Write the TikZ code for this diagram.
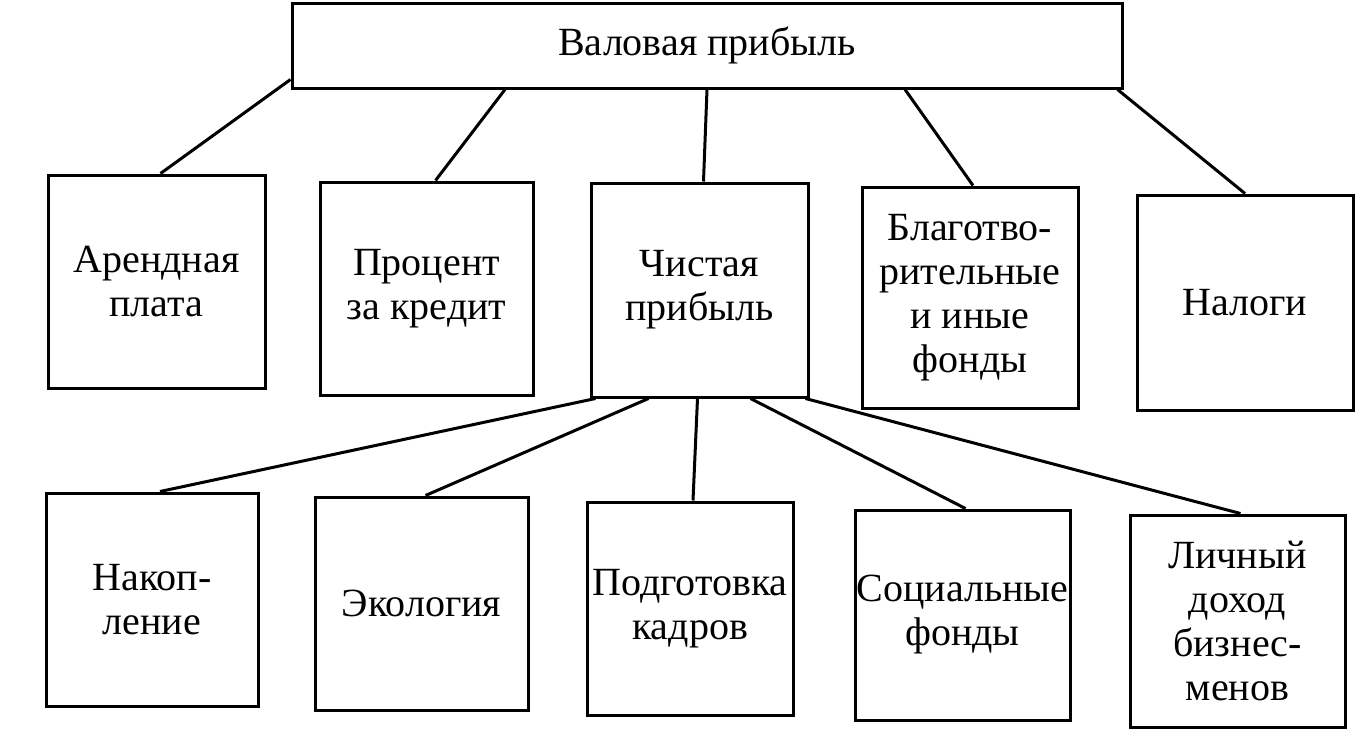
\documentclass[tikz,border=0pt]{standalone}
\usepackage{fontspec}
\setmainfont{Liberation Serif}
\begin{document}
\begin{tikzpicture}[x=1pt,y=-1pt,line width=3pt,
 bx/.style={draw,align=center,font=\fontsize{40}{44}\selectfont,inner sep=0pt}]
\useasboundingbox (0,0) rectangle (1366,739);
\node[bx,minimum width=830,minimum height=85] (top) at (707,45.5) {Валовая прибыль};
\node[bx,minimum width=217,minimum height=213] (a) at (156.5,281.5) {Арендная\\плата};
\node[bx,minimum width=213,minimum height=213] (b) at (426.5,288.5) {Процент\\за кредит};
\node[bx,minimum width=217,minimum height=214] (c) at (699.5,290) {Чистая\\прибыль};
\node[bx,minimum width=216,minimum height=221] (d) at (970,297.5) {Благотво-\\рительные\\и иные\\фонды};
\node[bx,minimum width=216,minimum height=215] (e) at (1245,302.5) {Налоги};
\node[bx,minimum width=212,minimum height=213] (f) at (152,599.5) {Накоп-\\ление};
\node[bx,minimum width=213,minimum height=213] (g) at (421.5,603.5) {Экология};
\node[bx,minimum width=206,minimum height=213] (h) at (690,608.5) {Подготовка\\кадров};
\node[bx,minimum width=215,minimum height=210] (i) at (962.5,615) {Социальные\\фонды};
\node[bx,minimum width=215,minimum height=212] (j) at (1237.5,621) {Личный\\доход\\бизнес-\\менов};
\draw ([yshift=10]top.south west) -- ([xshift=4]a.north);
\draw ([xshift=-202]top.south) -- ([xshift=9]b.north);
\draw (top.south) -- ([xshift=4]c.north);
\draw ([xshift=198]top.south) -- ([xshift=3]d.north);
\draw ([xshift=-6]top.south east) -- (e.north);
\draw ([xshift=6]c.south west) -- ([xshift=8]f.north);
\draw ([xshift=59]c.south west) -- ([xshift=4]g.north);
\draw ([xshift=-2]c.south) -- ([xshift=3]h.north);
\draw ([xshift=51]c.south) -- ([xshift=3]i.north);
\draw ([xshift=-4]c.south east) -- ([xshift=3]j.north);
\end{tikzpicture}
\end{document}
